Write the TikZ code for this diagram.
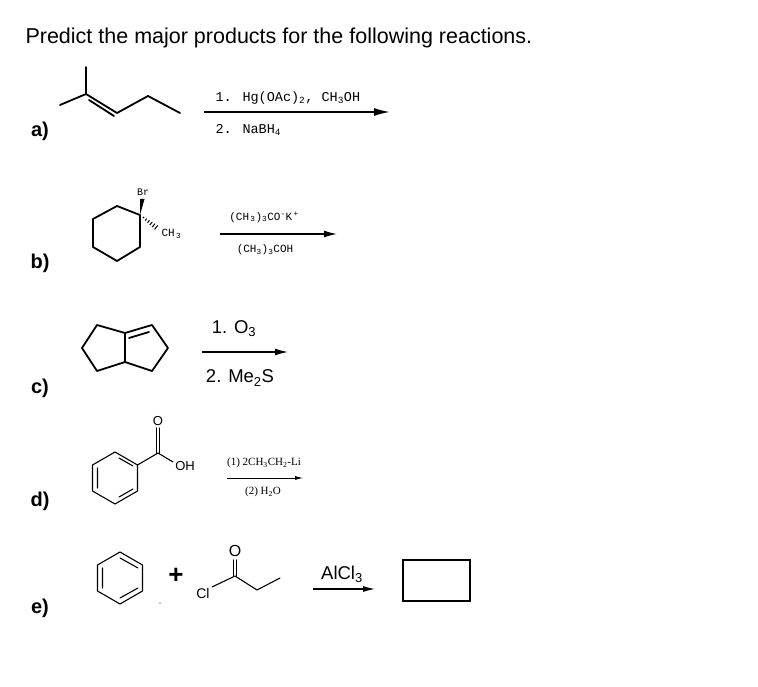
\documentclass[tikz,border=0pt]{standalone}
\usepackage{fontspec}
\setmainfont{Liberation Sans}
\newfontfamily\cour{Liberation Mono}
\newfontfamily\tms{Liberation Serif}
\usetikzlibrary{arrows.meta,calc}
\newcommand{\sbb}[1]{\textsubscript{#1}}
\newcommand{\spp}[1]{\textsuperscript{#1}}
\begin{document}
\begin{tikzpicture}[x=1pt,y=-1pt,
 bond/.style={line width=1.8pt,line cap=round,line join=round},
 thin/.style={line width=1.1pt,line cap=round},
 rxn/.style={line width=1.6pt,-{Latex[length=16pt,width=8pt]}},
 lab/.style={font=\fontsize{20}{20}\selectfont\bfseries},
 cr/.style={font=\cour\fontsize{13.5}{13.5}\selectfont},
 crs/.style={font=\cour\fontsize{11}{11}\selectfont},
 ar/.style={font=\fontsize{18.5}{18.5}\selectfont}]
\useasboundingbox (0,0) rectangle (758,687);
\node[anchor=west,font=\fontsize{21.5}{21.5}\selectfont] (title) at (22,38) {Predict the major products for the following reactions.};
\node[lab] (la) at (40,131) {a)};
\node[lab] (lb) at (40,263) {b)};
\node[lab] (lc) at (40,388) {c)};
\node[lab] (ld) at (40,501) {d)};
\node[lab] (le) at (40,608) {e)};
% a
\draw[bond] (60,105)--(86,94)--(117,113)--(148,96)--(180,113);
\draw[bond] (86,94)--(86,67);
\draw[bond] (89,100)--(114,116);
\coordinate (a1) at (204,112); \coordinate (a2) at (390,112);
\draw[rxn] (a1)--(a2);
\node[cr,anchor=west] (ta) at (212,98) {1. Hg(OAc)\sbb{2}, CH\sbb{3}OH};
\node[cr,anchor=west] (tb) at (212,130) {2. NaBH\sbb{4}};
% b
\draw[bond] (140,215)--(117,206)--(93,219)--(93,247)--(117,261)--(140,247)--cycle;
\fill (140,215)--(140,199)--(144.5,199)--cycle;
\node[font=\cour\fontsize{10}{10}\selectfont] (br) at (143,192) {Br};
\foreach \t in {0.2,0.35,...,1.0}{\draw[line width=1pt] ($(140,215)!\t!(157,228)+(-1.4*\t-0.3,1.8*\t+0.3)$)--($(140,215)!\t!(157,228)+(1.4*\t+0.3,-1.8*\t-0.3)$);}
\node[crs,anchor=west] (ch3) at (158,234) {CH\sbb{\,3}};
\coordinate (b1) at (220,234); \coordinate (b2) at (337,234);
\draw[rxn,line width=1.4pt,-{Latex[length=13pt,width=7pt]}] (b1)--(b2);
\node[crs] (tc) at (264,217) {(CH\sbb{\,3})\sbb{3}CO\spp{-}K\spp{\,+}};
\node[crs] (td) at (265,250) {(CH\sbb{3})\sbb{3}COH};
% c
\draw[bond] (125,333)--(97,325)--(82,348)--(97,371)--(125,362)--cycle;
\draw[bond] (125,333)--(152,325)--(168,348)--(152,371)--(125,362);
\draw[bond] (129,338)--(149,332);
\coordinate (c1) at (202,352); \coordinate (c2) at (288,352);
\draw[rxn,line width=1.4pt,-{Latex[length=13pt,width=7pt]}] (c1)--(c2);
\node[ar] (te) at (234,329) {1. O\sbb{3}};
\node[ar] (tf) at (240,378) {2. Me\sbb{2}S};
% d
\draw[thin] (115,452)--(137.5,465)--(137.5,491)--(115,504)--(92.5,491)--(92.5,465)--cycle;
\draw[thin] (119,458)--(133,466) (133,489)--(119,497) (97.5,488)--(97.5,468);
\draw[thin] (137.5,465)--(158,453)--(173,462);
\draw[thin] (156.5,453)--(156.5,428) (159.5,453)--(159.5,428);
\node[font=\fontsize{13}{13}\selectfont] (o1) at (158,421) {O};
\node[font=\fontsize{13}{13}\selectfont] (oh) at (185,466) {OH};
\coordinate (d1) at (227,478); \coordinate (d2) at (303,478);
\draw[line width=0.8pt,-{Latex[length=8pt,width=4pt]}] (d1)--(d2);
\node[font=\tms\fontsize{11}{11}\selectfont] (tg) at (264,463) {(1) 2CH\sbb{3}CH\sbb{2}-Li};
\node[font=\tms\fontsize{11}{11}\selectfont] (th) at (263,492) {(2) H\sbb{2}O};
% e
\draw[thin] (120,552)--(142.5,565)--(142.5,591)--(120,604)--(97.5,591)--(97.5,565)--cycle;
\draw[thin] (120,558)--(138,568) (138,588)--(120,598) (102.5,588)--(102.5,568);
\node[font=\fontsize{26}{26}\selectfont\bfseries] (plus) at (176,576) {+};
\fill (160,603) circle (0.7);
\node[font=\fontsize{14}{14}\selectfont] (cl) at (203,593) {Cl};
\draw[thin] (212,587)--(235,576)--(257,590)--(280,578);
\draw[thin] (233.5,576)--(233.5,560) (236.5,576)--(236.5,560);
\node[font=\fontsize{16}{16}\selectfont] (o2) at (235,551) {O};
\node[ar] (ti) at (342,574) {AlCl\sbb{3}};
\coordinate (e1) at (313,589); \coordinate (e2) at (375,589);
\draw[rxn,line width=1.2pt,-{Latex[length=12pt,width=6pt]}] (e1)--(e2);
\draw[line width=1.1pt] (403,560) rectangle (470,601);
\end{tikzpicture}
\end{document}
